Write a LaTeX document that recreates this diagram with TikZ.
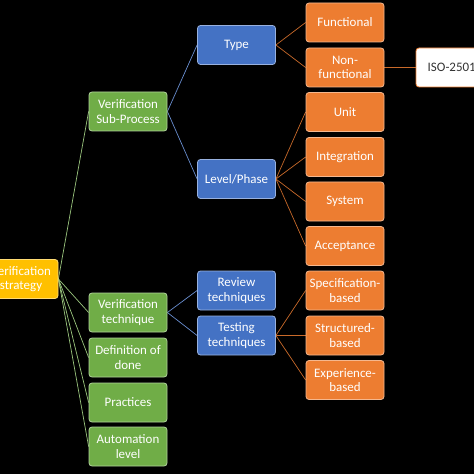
\documentclass[tikz,border=0pt]{standalone}
\usepackage{fontspec}
\setmainfont{Carlito}
\usetikzlibrary{backgrounds}

\definecolor{vgreen}{HTML}{70AD47}
\definecolor{vblue}{HTML}{4472C4}
\definecolor{vorange}{HTML}{ED7D31}
\definecolor{vyellow}{HTML}{FFC000}

\begin{document}
\begin{tikzpicture}[
    x=1bp, y=-1bp,
    box/.style={draw, line width=0.8pt, rounded corners=3pt, align=center,
                text=white, font=\fontsize{13}{14.5}\selectfont,
                minimum width=78bp, minimum height=39bp, inner sep=1pt},
    grn/.style={box, fill=vgreen, draw=vgreen!55!white},
    blu/.style={box, fill=vblue, draw=vblue!55!white},
    org/.style={box, fill=vorange, draw=vorange!55!white},
    yel/.style={box, fill=vyellow, draw=vyellow!55!white, minimum width=74bp},
    iso/.style={box, fill=white, draw=vorange, text=black!80},
    gl/.style={draw=vgreen!70!white, line width=0.7pt},
    bl/.style={draw=vblue!80!white, line width=0.7pt},
    ol/.style={draw=vorange!85!black, line width=0.7pt},
]
\begin{scope}[on background layer]
\fill[black] (0,0) rectangle (474,474);
\end{scope}
\useasboundingbox (0,0) rectangle (474,474);
\begin{scope}
\clip (0,0) rectangle (474,474);
% root
\node[yel] (root) at (21,279) {Verification\\strategy};
% level 1
\node[grn] (sub)  at (128,111.5) {Verification\\Sub-Process};
\node[grn] (tech) at (128,312.5) {Verification\\technique};
\node[grn] (dod)  at (128,357.5) {Definition of\\done};
\node[grn] (prac) at (128,402.5) {Practices};
\node[grn] (auto) at (128,446.5) {Automation\\level};
% level 2
\node[blu] (type)  at (236.5,45)    {Type};
\node[blu] (level) at (236.5,179)   {Level/Phase};
\node[blu] (rev)   at (236.5,290.5) {Review\\techniques};
\node[blu] (test)  at (236.5,335.5) {Testing\\techniques};
% level 3
\node[org] (func)   at (345,22.5)  {Functional};
\node[org] (nfunc)  at (345,67.5)  {Non-\\functional};
\node[org] (unit)   at (345,112)   {Unit};
\node[org] (integ)  at (345,157)   {Integration};
\node[org] (sys)    at (345,201.5) {System};
\node[org] (acc)    at (345,246)   {Acceptance};
\node[org] (spec)   at (345,290.5) {Specification-\\based};
\node[org] (struct) at (345,335.5) {Structured-\\based};
\node[org] (exp)    at (345,380)   {Experience-\\based};
\node[iso] (isonode) at (455,67.5) {ISO-25010};
\end{scope}
\begin{scope}[on background layer]
\foreach \c in {sub,tech,dod,prac,auto}
  \draw[gl] (root.east) -- (\c.west);
\draw[bl] (sub.east) -- (type.west);
\draw[bl] (sub.east) -- (level.west);
\draw[bl] (tech.east) -- (rev.west);
\draw[bl] (tech.east) -- (test.west);
\draw[ol] (type.east) -- (func.west);
\draw[ol] (type.east) -- (nfunc.west);
\foreach \c in {unit,integ,sys,acc}
  \draw[ol] (level.east) -- (\c.west);
\foreach \c in {spec,struct,exp}
  \draw[ol] (test.east) -- (\c.west);
\draw[ol] (nfunc.east) -- (isonode.west);
\end{scope}
\end{tikzpicture}
\end{document}
